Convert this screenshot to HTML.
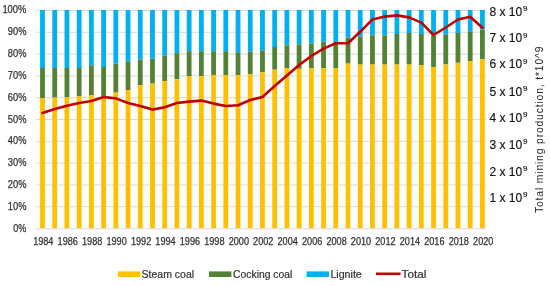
<!DOCTYPE html>
<html><head><meta charset="utf-8"><style>
html,body{margin:0;padding:0;background:#fff;}
body{width:550px;height:286px;overflow:hidden;}
svg{display:block;}
text{font-family:"Liberation Sans",Arial,sans-serif;}
.la{font-size:10px;fill:#333;stroke:#333;stroke-width:0.25px;}
.xl{font-size:10px;fill:#333;stroke:#333;stroke-width:0.25px;}
.ra{font-size:12px;fill:#111;stroke:#111;stroke-width:0.15px;}
.sup{font-size:8px;}
.rt{font-size:10.4px;fill:#262626;}
.lg{font-size:10.3px;fill:#333;stroke:#333;stroke-width:0.2px;}
</style></head><body>
<svg width="550" height="286" viewBox="0 0 550 286">
<line x1="36" x2="486" y1="206.74" y2="206.74" stroke="#D9D9D9" stroke-width="1"/>
<line x1="36" x2="486" y1="184.93" y2="184.93" stroke="#D9D9D9" stroke-width="1"/>
<line x1="36" x2="486" y1="163.12" y2="163.12" stroke="#D9D9D9" stroke-width="1"/>
<line x1="36" x2="486" y1="141.31" y2="141.31" stroke="#D9D9D9" stroke-width="1"/>
<line x1="36" x2="486" y1="119.50" y2="119.50" stroke="#D9D9D9" stroke-width="1"/>
<line x1="36" x2="486" y1="97.69" y2="97.69" stroke="#D9D9D9" stroke-width="1"/>
<line x1="36" x2="486" y1="75.88" y2="75.88" stroke="#D9D9D9" stroke-width="1"/>
<line x1="36" x2="486" y1="54.07" y2="54.07" stroke="#D9D9D9" stroke-width="1"/>
<line x1="36" x2="486" y1="32.26" y2="32.26" stroke="#D9D9D9" stroke-width="1"/>
<line x1="36" x2="486" y1="10.45" y2="10.45" stroke="#D9D9D9" stroke-width="1"/>
<rect x="40.10" y="10.0" width="4.8" height="58.00" fill="#00B0F0"/>
<rect x="40.10" y="68" width="4.8" height="30.00" fill="#548235"/>
<rect x="40.10" y="98" width="4.8" height="130.50" fill="#FFC000"/>
<rect x="52.32" y="10.0" width="4.8" height="58.00" fill="#00B0F0"/>
<rect x="52.32" y="68" width="4.8" height="29.60" fill="#548235"/>
<rect x="52.32" y="97.6" width="4.8" height="130.90" fill="#FFC000"/>
<rect x="64.54" y="10.0" width="4.8" height="58.00" fill="#00B0F0"/>
<rect x="64.54" y="68" width="4.8" height="29.30" fill="#548235"/>
<rect x="64.54" y="97.3" width="4.8" height="131.20" fill="#FFC000"/>
<rect x="76.76" y="10.0" width="4.8" height="58.00" fill="#00B0F0"/>
<rect x="76.76" y="68" width="4.8" height="28.00" fill="#548235"/>
<rect x="76.76" y="96" width="4.8" height="132.50" fill="#FFC000"/>
<rect x="88.98" y="10.0" width="4.8" height="55.40" fill="#00B0F0"/>
<rect x="88.98" y="65.4" width="4.8" height="29.70" fill="#548235"/>
<rect x="88.98" y="95.1" width="4.8" height="133.40" fill="#FFC000"/>
<rect x="101.20" y="10.0" width="4.8" height="57.00" fill="#00B0F0"/>
<rect x="101.20" y="67" width="4.8" height="29.00" fill="#548235"/>
<rect x="101.20" y="96.0" width="4.8" height="132.50" fill="#FFC000"/>
<rect x="113.42" y="10.0" width="4.8" height="53.60" fill="#00B0F0"/>
<rect x="113.42" y="63.6" width="4.8" height="29.00" fill="#548235"/>
<rect x="113.42" y="92.6" width="4.8" height="135.90" fill="#FFC000"/>
<rect x="125.64" y="10.0" width="4.8" height="51.80" fill="#00B0F0"/>
<rect x="125.64" y="61.8" width="4.8" height="28.20" fill="#548235"/>
<rect x="125.64" y="90" width="4.8" height="138.50" fill="#FFC000"/>
<rect x="137.86" y="10.0" width="4.8" height="49.50" fill="#00B0F0"/>
<rect x="137.86" y="59.5" width="4.8" height="25.80" fill="#548235"/>
<rect x="137.86" y="85.3" width="4.8" height="143.20" fill="#FFC000"/>
<rect x="150.08" y="10.0" width="4.8" height="48.60" fill="#00B0F0"/>
<rect x="150.08" y="58.6" width="4.8" height="25.00" fill="#548235"/>
<rect x="150.08" y="83.6" width="4.8" height="144.90" fill="#FFC000"/>
<rect x="162.30" y="10.0" width="4.8" height="45.80" fill="#00B0F0"/>
<rect x="162.30" y="55.8" width="4.8" height="25.20" fill="#548235"/>
<rect x="162.30" y="81" width="4.8" height="147.50" fill="#FFC000"/>
<rect x="174.52" y="10.0" width="4.8" height="43.20" fill="#00B0F0"/>
<rect x="174.52" y="53.2" width="4.8" height="26.00" fill="#548235"/>
<rect x="174.52" y="79.2" width="4.8" height="149.30" fill="#FFC000"/>
<rect x="186.74" y="10.0" width="4.8" height="41.20" fill="#00B0F0"/>
<rect x="186.74" y="51.2" width="4.8" height="24.80" fill="#548235"/>
<rect x="186.74" y="76" width="4.8" height="152.50" fill="#FFC000"/>
<rect x="198.96" y="10.0" width="4.8" height="41.20" fill="#00B0F0"/>
<rect x="198.96" y="51.2" width="4.8" height="24.80" fill="#548235"/>
<rect x="198.96" y="76" width="4.8" height="152.50" fill="#FFC000"/>
<rect x="211.18" y="10.0" width="4.8" height="41.20" fill="#00B0F0"/>
<rect x="211.18" y="51.2" width="4.8" height="23.80" fill="#548235"/>
<rect x="211.18" y="75" width="4.8" height="153.50" fill="#FFC000"/>
<rect x="223.40" y="10.0" width="4.8" height="41.20" fill="#00B0F0"/>
<rect x="223.40" y="51.2" width="4.8" height="23.80" fill="#548235"/>
<rect x="223.40" y="75" width="4.8" height="153.50" fill="#FFC000"/>
<rect x="235.62" y="10.0" width="4.8" height="42.20" fill="#00B0F0"/>
<rect x="235.62" y="52.2" width="4.8" height="22.80" fill="#548235"/>
<rect x="235.62" y="75" width="4.8" height="153.50" fill="#FFC000"/>
<rect x="247.84" y="10.0" width="4.8" height="41.60" fill="#00B0F0"/>
<rect x="247.84" y="51.6" width="4.8" height="22.40" fill="#548235"/>
<rect x="247.84" y="74" width="4.8" height="154.50" fill="#FFC000"/>
<rect x="260.06" y="10.0" width="4.8" height="40.60" fill="#00B0F0"/>
<rect x="260.06" y="50.6" width="4.8" height="21.60" fill="#548235"/>
<rect x="260.06" y="72.2" width="4.8" height="156.30" fill="#FFC000"/>
<rect x="272.28" y="10.0" width="4.8" height="37.00" fill="#00B0F0"/>
<rect x="272.28" y="47" width="4.8" height="22.70" fill="#548235"/>
<rect x="272.28" y="69.7" width="4.8" height="158.80" fill="#FFC000"/>
<rect x="284.50" y="10.0" width="4.8" height="35.40" fill="#00B0F0"/>
<rect x="284.50" y="45.4" width="4.8" height="22.60" fill="#548235"/>
<rect x="284.50" y="68" width="4.8" height="160.50" fill="#FFC000"/>
<rect x="296.72" y="10.0" width="4.8" height="34.40" fill="#00B0F0"/>
<rect x="296.72" y="44.4" width="4.8" height="24.40" fill="#548235"/>
<rect x="296.72" y="68.8" width="4.8" height="159.70" fill="#FFC000"/>
<rect x="308.94" y="10.0" width="4.8" height="33.60" fill="#00B0F0"/>
<rect x="308.94" y="43.6" width="4.8" height="24.40" fill="#548235"/>
<rect x="308.94" y="68" width="4.8" height="160.50" fill="#FFC000"/>
<rect x="321.16" y="10.0" width="4.8" height="31.60" fill="#00B0F0"/>
<rect x="321.16" y="41.6" width="4.8" height="26.40" fill="#548235"/>
<rect x="321.16" y="68" width="4.8" height="160.50" fill="#FFC000"/>
<rect x="333.38" y="10.0" width="4.8" height="32.00" fill="#00B0F0"/>
<rect x="333.38" y="42.0" width="4.8" height="26.00" fill="#548235"/>
<rect x="333.38" y="68" width="4.8" height="160.50" fill="#FFC000"/>
<rect x="345.60" y="10.0" width="4.8" height="27.60" fill="#00B0F0"/>
<rect x="345.60" y="37.6" width="4.8" height="26.00" fill="#548235"/>
<rect x="345.60" y="63.6" width="4.8" height="164.90" fill="#FFC000"/>
<rect x="357.82" y="10.0" width="4.8" height="26.40" fill="#00B0F0"/>
<rect x="357.82" y="36.4" width="4.8" height="28.20" fill="#548235"/>
<rect x="357.82" y="64.6" width="4.8" height="163.90" fill="#FFC000"/>
<rect x="370.04" y="10.0" width="4.8" height="25.40" fill="#00B0F0"/>
<rect x="370.04" y="35.4" width="4.8" height="29.20" fill="#548235"/>
<rect x="370.04" y="64.6" width="4.8" height="163.90" fill="#FFC000"/>
<rect x="382.26" y="10.0" width="4.8" height="25.40" fill="#00B0F0"/>
<rect x="382.26" y="35.4" width="4.8" height="29.20" fill="#548235"/>
<rect x="382.26" y="64.6" width="4.8" height="163.90" fill="#FFC000"/>
<rect x="394.48" y="10.0" width="4.8" height="24.00" fill="#00B0F0"/>
<rect x="394.48" y="34" width="4.8" height="30.60" fill="#548235"/>
<rect x="394.48" y="64.6" width="4.8" height="163.90" fill="#FFC000"/>
<rect x="406.70" y="10.0" width="4.8" height="23.00" fill="#00B0F0"/>
<rect x="406.70" y="33" width="4.8" height="31.60" fill="#548235"/>
<rect x="406.70" y="64.6" width="4.8" height="163.90" fill="#FFC000"/>
<rect x="418.92" y="10.0" width="4.8" height="24.00" fill="#00B0F0"/>
<rect x="418.92" y="34" width="4.8" height="31.40" fill="#548235"/>
<rect x="418.92" y="65.4" width="4.8" height="163.10" fill="#FFC000"/>
<rect x="431.14" y="10.0" width="4.8" height="25.50" fill="#00B0F0"/>
<rect x="431.14" y="35.5" width="4.8" height="31.50" fill="#548235"/>
<rect x="431.14" y="67" width="4.8" height="161.50" fill="#FFC000"/>
<rect x="443.36" y="10.0" width="4.8" height="24.80" fill="#00B0F0"/>
<rect x="443.36" y="34.8" width="4.8" height="29.70" fill="#548235"/>
<rect x="443.36" y="64.5" width="4.8" height="164.00" fill="#FFC000"/>
<rect x="455.58" y="10.0" width="4.8" height="23.00" fill="#00B0F0"/>
<rect x="455.58" y="33" width="4.8" height="29.80" fill="#548235"/>
<rect x="455.58" y="62.8" width="4.8" height="165.70" fill="#FFC000"/>
<rect x="467.80" y="10.0" width="4.8" height="21.30" fill="#00B0F0"/>
<rect x="467.80" y="31.3" width="4.8" height="29.70" fill="#548235"/>
<rect x="467.80" y="61" width="4.8" height="167.50" fill="#FFC000"/>
<rect x="480.02" y="10.0" width="4.8" height="19.60" fill="#00B0F0"/>
<rect x="480.02" y="29.6" width="4.8" height="29.70" fill="#548235"/>
<rect x="480.02" y="59.3" width="4.8" height="169.20" fill="#FFC000"/>
<line x1="36" x2="486" y1="228.8" y2="228.8" stroke="#D9D9D9" stroke-width="1"/>
<polyline points="42.50,113 54.72,109 66.94,105.8 79.16,103 91.38,101 103.60,97.0 115.82,98.4 128.04,103 140.26,106 152.48,109.6 164.70,107.2 176.92,103 189.14,101.6 201.36,100.6 213.58,103.6 225.80,106 238.02,105.2 250.24,100 262.46,97 274.68,86 286.90,75.5 299.12,65 311.34,56 323.56,48.6 335.78,43.2 348.00,43.2 360.22,31.8 372.44,19.4 384.66,16.6 396.88,15.4 409.10,17.4 421.32,22.6 433.54,35 445.76,27.5 457.98,19.5 470.20,16.7 482.42,27.7" fill="none" stroke="#C00000" stroke-width="2.6" stroke-linejoin="round" stroke-linecap="round"/>
<text class="la" x="26.4" y="231.55" text-anchor="end" textLength="13.1" lengthAdjust="spacingAndGlyphs">0%</text>
<text class="la" x="26.4" y="209.74" text-anchor="end" textLength="18.6" lengthAdjust="spacingAndGlyphs">10%</text>
<text class="la" x="26.4" y="187.93" text-anchor="end" textLength="18.6" lengthAdjust="spacingAndGlyphs">20%</text>
<text class="la" x="26.4" y="166.12" text-anchor="end" textLength="18.6" lengthAdjust="spacingAndGlyphs">30%</text>
<text class="la" x="26.4" y="144.31" text-anchor="end" textLength="18.6" lengthAdjust="spacingAndGlyphs">40%</text>
<text class="la" x="26.4" y="122.50" text-anchor="end" textLength="18.6" lengthAdjust="spacingAndGlyphs">50%</text>
<text class="la" x="26.4" y="100.69" text-anchor="end" textLength="18.6" lengthAdjust="spacingAndGlyphs">60%</text>
<text class="la" x="26.4" y="78.88" text-anchor="end" textLength="18.6" lengthAdjust="spacingAndGlyphs">70%</text>
<text class="la" x="26.4" y="57.07" text-anchor="end" textLength="18.6" lengthAdjust="spacingAndGlyphs">80%</text>
<text class="la" x="26.4" y="35.26" text-anchor="end" textLength="18.6" lengthAdjust="spacingAndGlyphs">90%</text>
<text class="la" x="26.4" y="13.45" text-anchor="end" textLength="24.0" lengthAdjust="spacingAndGlyphs">100%</text>
<text class="xl" x="33.15" y="245.2" textLength="20.3" lengthAdjust="spacingAndGlyphs">1984</text>
<text class="xl" x="57.59" y="245.2" textLength="20.3" lengthAdjust="spacingAndGlyphs">1986</text>
<text class="xl" x="82.03" y="245.2" textLength="20.3" lengthAdjust="spacingAndGlyphs">1988</text>
<text class="xl" x="106.47" y="245.2" textLength="20.3" lengthAdjust="spacingAndGlyphs">1990</text>
<text class="xl" x="130.91" y="245.2" textLength="20.3" lengthAdjust="spacingAndGlyphs">1992</text>
<text class="xl" x="155.35" y="245.2" textLength="20.3" lengthAdjust="spacingAndGlyphs">1994</text>
<text class="xl" x="179.79" y="245.2" textLength="20.3" lengthAdjust="spacingAndGlyphs">1996</text>
<text class="xl" x="204.23" y="245.2" textLength="20.3" lengthAdjust="spacingAndGlyphs">1998</text>
<text class="xl" x="228.67" y="245.2" textLength="20.3" lengthAdjust="spacingAndGlyphs">2000</text>
<text class="xl" x="253.11" y="245.2" textLength="20.3" lengthAdjust="spacingAndGlyphs">2002</text>
<text class="xl" x="277.55" y="245.2" textLength="20.3" lengthAdjust="spacingAndGlyphs">2004</text>
<text class="xl" x="301.99" y="245.2" textLength="20.3" lengthAdjust="spacingAndGlyphs">2006</text>
<text class="xl" x="326.43" y="245.2" textLength="20.3" lengthAdjust="spacingAndGlyphs">2008</text>
<text class="xl" x="350.87" y="245.2" textLength="20.3" lengthAdjust="spacingAndGlyphs">2010</text>
<text class="xl" x="375.31" y="245.2" textLength="20.3" lengthAdjust="spacingAndGlyphs">2012</text>
<text class="xl" x="399.75" y="245.2" textLength="20.3" lengthAdjust="spacingAndGlyphs">2014</text>
<text class="xl" x="424.19" y="245.2" textLength="20.3" lengthAdjust="spacingAndGlyphs">2016</text>
<text class="xl" x="448.63" y="245.2" textLength="20.3" lengthAdjust="spacingAndGlyphs">2018</text>
<text class="xl" x="473.07" y="245.2" textLength="20.3" lengthAdjust="spacingAndGlyphs">2020</text>
<text class="ra" x="489.4" y="15.70">8 x 10<tspan class="sup" dx="0.9" dy="-4.6">9</tspan></text>
<text class="ra" x="489.4" y="42.40">7 x 10<tspan class="sup" dx="0.9" dy="-4.6">9</tspan></text>
<text class="ra" x="489.4" y="68.30">6 x 10<tspan class="sup" dx="0.9" dy="-4.6">9</tspan></text>
<text class="ra" x="489.4" y="95.70">5 x 10<tspan class="sup" dx="0.9" dy="-4.6">9</tspan></text>
<text class="ra" x="489.4" y="121.90">4 x 10<tspan class="sup" dx="0.9" dy="-4.6">9</tspan></text>
<text class="ra" x="489.4" y="148.80">3 x 10<tspan class="sup" dx="0.9" dy="-4.6">9</tspan></text>
<text class="ra" x="489.4" y="175.70">2 x 10<tspan class="sup" dx="0.9" dy="-4.6">9</tspan></text>
<text class="ra" x="489.4" y="201.60">1 x 10<tspan class="sup" dx="0.9" dy="-4.6">9</tspan></text>
<text class="rt" transform="translate(542.8,213) rotate(-90)" textLength="166.5" lengthAdjust="spacing">Total mining production, t*10^9</text>
<rect x="118" y="271.4" width="22.4" height="5.6" fill="#FFC000"/>
<text class="lg" x="141.5" y="277.6" textLength="52.6" lengthAdjust="spacingAndGlyphs">Steam coal</text>
<rect x="209" y="271.4" width="22.4" height="5.6" fill="#548235"/>
<text class="lg" x="233.1" y="277.6" textLength="59.2" lengthAdjust="spacingAndGlyphs">Cocking coal</text>
<rect x="306.6" y="271.4" width="22.4" height="5.6" fill="#00B0F0"/>
<text class="lg" x="330.4" y="277.6" textLength="31.4" lengthAdjust="spacingAndGlyphs">Lignite</text>
<line x1="376" x2="400.6" y1="273.8" y2="273.8" stroke="#C00000" stroke-width="2.6"/>
<text class="lg" x="401.6" y="277.6" textLength="24.8" lengthAdjust="spacingAndGlyphs">Total</text>
</svg>
</body></html>
